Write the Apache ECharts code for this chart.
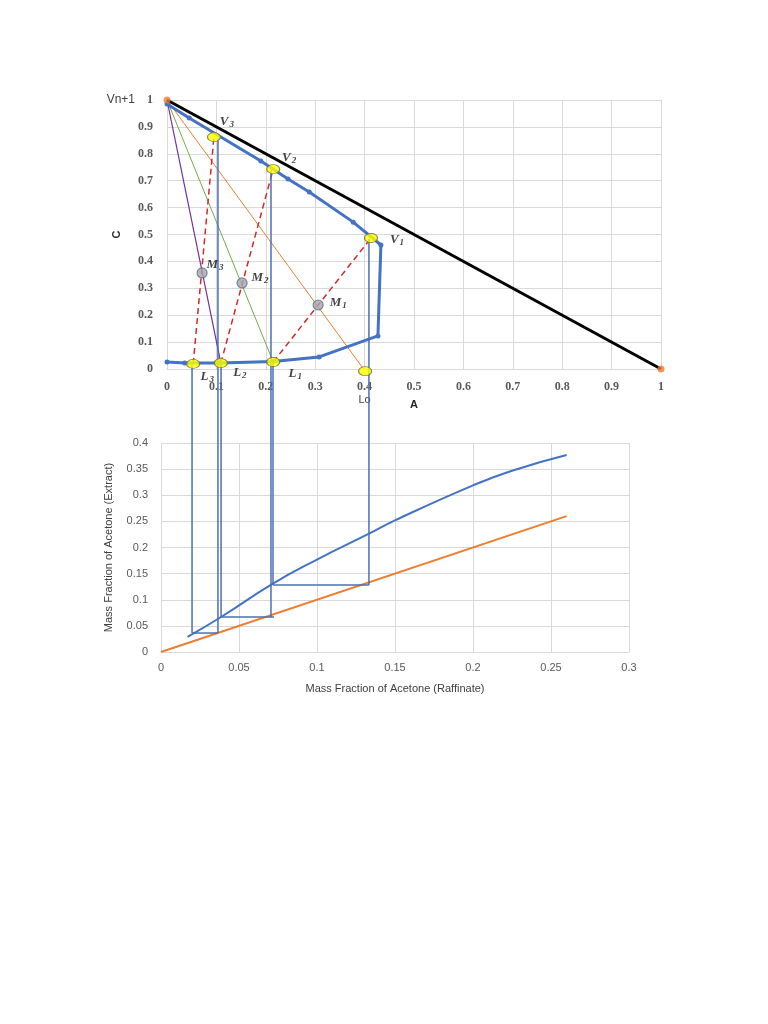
<!DOCTYPE html>
<html>
<head>
<meta charset="utf-8">
<script src="https://cdn.jsdelivr.net/npm/echarts@6/dist/echarts.min.js"></script>
<style>
html,body{margin:0;padding:0;background:#fff;}
#chart{width:768px;height:1024px;}
</style>
</head>
<body>
<div id="chart"></div>
<script>
// ---------- Ternary (top) diagram data ----------
const solventPoint = [0, 1];          // Vn+1
const pureAPoint = [1, 0];
const hypotenuse = [[0, 1], [1, 0]];
const binodal = [[0, 0.985], [0.045, 0.933], [0.19, 0.773], [0.245, 0.706], [0.288, 0.658],
  [0.377, 0.546], [0.433, 0.461], [0.427, 0.123], [0.308, 0.045], [0.215, 0.028],
  [0.107, 0.022], [0.036, 0.022], [0, 0.026]];
const vNames = ['1', '2', '3'];
const vPoints = [[0.413, 0.487], [0.215, 0.743], [0.095, 0.862]];
const lPoints = [[0.215, 0.026], [0.109, 0.022], [0.053, 0.019]];
const loPoint = [0.401, -0.008];
const mPoints = [[0.306, 0.238], [0.152, 0.32], [0.071, 0.357]];

// ---------- Distribution (bottom) diagram data ----------
const equilibrium = [[0.017, 0.029], [0.0385, 0.067], [0.0712, 0.13], [0.1, 0.177], [0.133, 0.226],
  [0.15, 0.252], [0.2, 0.319], [0.225, 0.347], [0.26, 0.377]];
const operating = [[0, 0], [0.26, 0.26]];
// projection / stage lines: [x, yTop, yBottom]
const stepVerticals = [[0.1333, 0.7905, 0.128], [0.0718, 0.5537, 0.128], [0.0705, 0.9222, 0.0668],
  [0.0385, 0.5518, 0.0668], [0.0365, 0.9833, 0.0363], [0.0199, 0.5499, 0.0363]];
// [y, xLeft, xRight]
const stepHorizontals = [[0.128, 0.0718, 0.1333], [0.0668, 0.0385, 0.0724], [0.0363, 0.0199, 0.0365]];
const strayLine = [[0.3173, 0.4296], [0.3173, -0.1012]];

// label offsets (px) for point names
const vOffsets = [[26, 2], [16, -11], [13, -15]];
const lOffsets = [[22, 12], [19, 10], [14, 13]];
const mOffsets = [[20, -2], [18, -5], [13, -8]];

const chart = echarts.init(document.getElementById('chart'), null, {renderer: 'canvas'});

const nameRich = {
  v: {fontFamily: 'Liberation Serif', fontStyle: 'italic', fontWeight: 'bold', fontSize: 13, color: '#111'},
  s: {fontFamily: 'Liberation Serif', fontStyle: 'italic', fontWeight: 'bold', fontSize: 9, color: '#111', verticalAlign: 'bottom', padding: [6, 0, 0, 1]}
};
function nameLabel(letter, sub, off) {
  return {show: true, position: 'inside', offset: off, formatter: '{v|' + letter + '}{s|' + sub + '}', rich: nameRich};
}

const series = [];
// top grid
series.push({type: 'line', xAxisIndex: 0, yAxisIndex: 0, data: hypotenuse, symbol: 'none',
  lineStyle: {color: '#000', width: 3}, z: 3});
series.push({type: 'line', xAxisIndex: 0, yAxisIndex: 0, data: [solventPoint, loPoint], symbol: 'none',
  lineStyle: {color: '#ED7D31', width: 1}, z: 2});
series.push({type: 'line', xAxisIndex: 0, yAxisIndex: 0, data: [solventPoint, lPoints[0]], symbol: 'none',
  lineStyle: {color: '#70AD47', width: 1}, z: 2});
series.push({type: 'line', xAxisIndex: 0, yAxisIndex: 0, data: [solventPoint, lPoints[1]], symbol: 'none',
  lineStyle: {color: '#7030A0', width: 1.2}, z: 2});
for (let i = 0; i < 3; i++) {
  series.push({type: 'line', xAxisIndex: 0, yAxisIndex: 0, data: [lPoints[i], vPoints[i]], symbol: 'none',
    lineStyle: {color: '#D42A2A', width: 1.5, type: [6, 4]}, z: 3});
}
series.push({type: 'line', xAxisIndex: 0, yAxisIndex: 0, data: binodal, symbol: 'circle', symbolSize: 5,
  itemStyle: {color: '#4472C4'}, lineStyle: {color: '#4472C4', width: 3}, z: 4});
series.push({type: 'scatter', xAxisIndex: 0, yAxisIndex: 0, data: [solventPoint, pureAPoint], symbol: 'circle',
  symbolSize: 7, itemStyle: {color: '#ED7D31'}, z: 5});
series.push({type: 'scatter', xAxisIndex: 0, yAxisIndex: 0, symbolSize: 10,
  itemStyle: {color: '#A6A6AE', borderColor: '#5E6E90', borderWidth: 1.2}, z: 8,
  data: mPoints.map((p, i) => ({value: p, label: nameLabel('M', vNames[i], mOffsets[i])}))});
series.push({type: 'scatter', xAxisIndex: 0, yAxisIndex: 0, symbolSize: [13, 9], clip: false,
  itemStyle: {color: '#FFFF00', borderColor: '#6B6B3A', borderWidth: 1}, z: 8,
  data: vPoints.map((p, i) => ({value: p, label: nameLabel('V', vNames[i], vOffsets[i])}))
    .concat(lPoints.map((p, i) => ({value: p, label: nameLabel('L', vNames[i], lOffsets[i])})))
    .concat([{value: loPoint}])});

// bottom grid
series.push({type: 'line', xAxisIndex: 1, yAxisIndex: 1, data: operating, symbol: 'none',
  lineStyle: {color: '#ED7D31', width: 2}, z: 3});
series.push({type: 'line', xAxisIndex: 1, yAxisIndex: 1, data: equilibrium, symbol: 'none', smooth: true,
  lineStyle: {color: '#4472C4', width: 2}, z: 3});
stepVerticals.forEach(s => series.push({type: 'line', xAxisIndex: 1, yAxisIndex: 1, clip: false, symbol: 'none',
  data: [[s[0], s[1]], [s[0], s[2]]], lineStyle: {color: '#4A6FB5', width: 1.5}, z: 6}));
stepHorizontals.forEach(s => series.push({type: 'line', xAxisIndex: 1, yAxisIndex: 1, clip: false, symbol: 'none',
  data: [[s[1], s[0]], [s[2], s[0]]], lineStyle: {color: '#4A6FB5', width: 1.5}, z: 6}));
series.push({type: 'line', xAxisIndex: 1, yAxisIndex: 1, clip: false, symbol: 'none', data: strayLine,
  lineStyle: {color: '#4A6FB5', width: 2}, z: 6});

const gridLine = {show: true, lineStyle: {color: '#D9D9D9', width: 1}};
const topLabel = {color: '#595959', fontFamily: 'Liberation Serif', fontSize: 12, fontWeight: 'bold'};
const botLabel = {color: '#595959', fontFamily: 'Liberation Sans', fontSize: 11};

chart.setOption({
  animation: false,
  backgroundColor: '#fff',
  grid: [
    {left: 167, top: 100, width: 494, height: 269},
    {left: 161, top: 443, width: 468, height: 209}
  ],
  xAxis: [
    {type: 'value', gridIndex: 0, min: 0, max: 1, interval: 0.1,
      name: 'A', nameLocation: 'middle', nameGap: 30, nameMoveOverlap: false,
      nameTextStyle: {color: '#222', fontWeight: 'bold', fontFamily: 'Liberation Sans', fontSize: 11},
      axisLine: {show: true, lineStyle: {color: '#D9D9D9'}}, axisTick: {show: false}, splitLine: gridLine,
      axisLabel: Object.assign({}, topLabel, {margin: 11, lineHeight: 13,
        formatter: v => (Math.abs(v - loPoint[0]) < 0.02 ? v + '\n{lo|Lo}' : String(v)),
        rich: {lo: {fontFamily: 'Liberation Sans', fontWeight: 'normal', color: '#404040', fontSize: 11}}})},
    {type: 'value', gridIndex: 1, min: 0, max: 0.3, interval: 0.05,
      name: 'Mass Fraction of Acetone (Raffinate)', nameLocation: 'middle', nameGap: 31, nameMoveOverlap: false,
      nameTextStyle: {color: '#404040', fontFamily: 'Liberation Sans', fontSize: 11},
      axisLine: {show: true, lineStyle: {color: '#D9D9D9'}}, axisTick: {show: false}, splitLine: gridLine,
      axisLabel: Object.assign({}, botLabel, {margin: 10})}
  ],
  yAxis: [
    {type: 'value', gridIndex: 0, min: 0, max: 1, interval: 0.1,
      name: 'C', nameLocation: 'middle', nameGap: 45, nameRotate: 90, nameMoveOverlap: false,
      nameTextStyle: {color: '#222', fontWeight: 'bold', fontFamily: 'Liberation Sans', fontSize: 11},
      axisLine: {show: false}, axisTick: {show: false}, splitLine: gridLine,
      axisLabel: Object.assign({}, topLabel, {margin: 14,
        formatter: v => (v === 1 ? '{n|Vn+1}1' : String(v)),
        rich: {n: {fontFamily: 'Liberation Sans', fontWeight: 'normal', color: '#404040', fontSize: 12, padding: [0, 12, 0, 0]}}})},
    {type: 'value', gridIndex: 1, min: 0, max: 0.4, interval: 0.05,
      name: 'Mass Fraction of Acetone (Extract)', nameLocation: 'middle', nameGap: 47, nameRotate: 90, nameMoveOverlap: false,
      nameTextStyle: {color: '#404040', fontFamily: 'Liberation Sans', fontSize: 11},
      axisLine: {show: false}, axisTick: {show: false}, splitLine: gridLine,
      axisLabel: Object.assign({}, botLabel, {margin: 13})}
  ],
  series: series
});
</script>
</body>
</html>
